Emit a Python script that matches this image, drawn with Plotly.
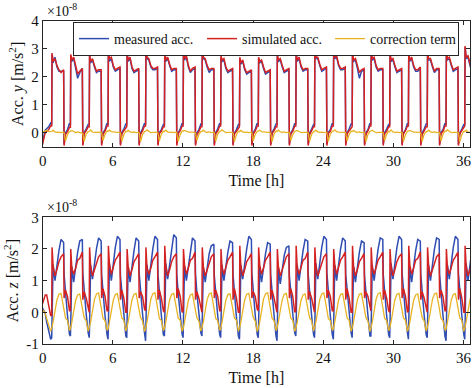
import plotly.graph_objects as go

# ---------------- data (values in units of 1e-8 m/s^2) ----------------
# orbit-cycle start times [h] (instant of the up-jump of the simulated signal)
cycle_start = [-0.84, 0.77, 2.37, 3.98, 5.59, 7.19, 8.80, 10.41, 12.01, 13.62, 15.22,
               16.83, 18.44, 20.04, 21.65, 23.25, 24.86, 26.47, 28.07, 29.68, 31.28,
               32.89, 34.50, 36.10]
# sample instants inside each cycle [h after cycle start]
phase_h = [0.00, 0.03, 0.12, 0.28, 0.45, 0.62, 0.80, 1.02, 1.06, 1.18, 1.35, 1.52]

y_measured = [
    [-0.40, -0.40, -0.40, -0.40, -0.40, -0.40, -0.40, 0.05, 0.10, 0.15, 0.22, 0.35],
    [0.30, 2.80, 2.50, 2.70, 2.35, 2.20, 2.20, 2.20, -0.40, 0.00, 0.12, 0.35],
    [0.28, 2.75, 2.55, 2.65, 2.30, 1.95, 2.15, 2.30, -0.40, 0.02, 0.15, 0.30],
    [0.30, 2.75, 2.50, 2.60, 2.35, 2.15, 2.20, 2.20, -0.40, 0.00, 0.12, 0.35],
    [0.30, 2.95, 2.55, 2.65, 2.35, 2.20, 2.25, 2.30, -0.40, 0.02, 0.14, 0.32],
    [0.30, 2.80, 2.55, 2.65, 2.30, 2.15, 2.20, 2.25, -0.40, 0.00, 0.15, 0.35],
    [0.30, 2.95, 2.65, 2.60, 2.35, 2.25, 2.25, 2.30, -0.40, 0.02, 0.12, 0.30],
    [0.30, 2.85, 2.55, 2.65, 2.40, 2.20, 2.25, 2.25, -0.40, 0.00, 0.14, 0.35],
    [0.30, 2.95, 2.60, 2.70, 2.35, 2.15, 2.25, 2.30, -0.40, 0.00, 0.12, 0.32],
    [0.30, 2.95, 2.65, 2.60, 2.35, 2.15, 2.25, 2.25, -0.40, 0.02, 0.15, 0.35],
    [0.30, 2.70, 2.55, 2.60, 2.30, 2.15, 2.20, 2.25, -0.40, 0.00, 0.12, 0.30],
    [0.30, 2.65, 2.45, 2.55, 2.25, 2.10, 2.15, 2.20, -0.40, 0.00, 0.14, 0.35],
    [0.30, 2.65, 2.50, 2.55, 2.30, 2.10, 2.15, 2.20, -0.40, 0.02, 0.15, 0.32],
    [0.30, 2.75, 2.55, 2.60, 2.35, 2.15, 2.20, 2.25, -0.40, 0.00, 0.12, 0.35],
    [0.30, 2.80, 2.55, 2.65, 2.35, 2.20, 2.25, 2.25, -0.40, 0.00, 0.14, 0.30],
    [0.30, 2.95, 2.65, 2.65, 2.40, 2.20, 2.25, 2.30, -0.40, 0.02, 0.12, 0.35],
    [0.30, 3.00, 2.65, 2.70, 2.40, 2.25, 2.25, 2.30, -0.40, 0.00, 0.15, 0.32],
    [0.30, 2.85, 2.55, 2.60, 2.30, 1.95, 2.20, 2.25, -0.40, 0.00, 0.12, 0.35],
    [0.30, 2.90, 2.60, 2.65, 2.35, 2.20, 2.25, 2.25, -0.40, 0.02, 0.14, 0.30],
    [0.30, 2.80, 2.55, 2.60, 2.35, 2.15, 2.20, 2.25, -0.40, 0.00, 0.12, 0.35],
    [0.30, 2.80, 2.55, 2.65, 2.35, 2.20, 2.20, 2.30, -0.40, 0.00, 0.15, 0.32],
    [0.30, 2.80, 2.60, 2.60, 2.35, 2.15, 2.25, 2.25, -0.40, 0.02, 0.12, 0.35],
    [0.30, 2.90, 2.60, 2.65, 2.40, 2.20, 2.25, 2.30, -0.40, 0.00, 0.14, 0.30],
    [0.30, 3.05, 2.65, 2.70, 2.40, 2.15, 2.20, 2.25, -0.40, 0.00, 0.12, 0.35],
]

y_simulated = [
    [-0.45, -0.45, -0.45, -0.45, -0.45, -0.45, -0.45, -0.05, 0.00, 0.05, 0.12, 0.25],
    [0.25, 2.85, 2.55, 2.65, 2.40, 2.25, 2.15, 2.25, -0.45, -0.05, 0.05, 0.20],
    [0.20, 2.80, 2.60, 2.70, 2.35, 2.10, 2.20, 2.30, -0.45, -0.02, 0.08, 0.22],
    [0.22, 2.80, 2.55, 2.65, 2.40, 2.20, 2.25, 2.25, -0.45, -0.05, 0.06, 0.25],
    [0.25, 3.00, 2.65, 2.70, 2.40, 2.25, 2.30, 2.35, -0.45, -0.03, 0.08, 0.20],
    [0.22, 2.85, 2.60, 2.70, 2.35, 2.20, 2.25, 2.30, -0.45, -0.04, 0.07, 0.25],
    [0.25, 3.00, 2.70, 2.65, 2.40, 2.30, 2.30, 2.35, -0.45, -0.02, 0.06, 0.22],
    [0.22, 2.90, 2.60, 2.70, 2.45, 2.25, 2.30, 2.30, -0.45, -0.03, 0.08, 0.25],
    [0.25, 3.00, 2.65, 2.75, 2.40, 2.20, 2.30, 2.35, -0.45, -0.05, 0.05, 0.22],
    [0.22, 3.00, 2.70, 2.65, 2.40, 2.25, 2.30, 2.30, -0.45, -0.02, 0.07, 0.25],
    [0.25, 2.75, 2.60, 2.65, 2.35, 2.20, 2.25, 2.30, -0.45, -0.03, 0.06, 0.20],
    [0.22, 2.70, 2.50, 2.60, 2.30, 2.15, 2.20, 2.25, -0.45, -0.04, 0.07, 0.25],
    [0.25, 2.70, 2.55, 2.60, 2.35, 2.15, 2.20, 2.25, -0.45, -0.02, 0.08, 0.22],
    [0.22, 2.80, 2.60, 2.65, 2.40, 2.20, 2.25, 2.30, -0.45, -0.03, 0.06, 0.25],
    [0.25, 2.85, 2.60, 2.70, 2.40, 2.25, 2.30, 2.30, -0.45, -0.05, 0.07, 0.22],
    [0.22, 3.00, 2.70, 2.70, 2.45, 2.25, 2.30, 2.35, -0.45, -0.02, 0.06, 0.25],
    [0.25, 3.05, 2.70, 2.75, 2.45, 2.30, 2.30, 2.35, -0.45, -0.03, 0.08, 0.20],
    [0.22, 2.90, 2.60, 2.65, 2.35, 2.15, 2.25, 2.30, -0.45, -0.04, 0.07, 0.25],
    [0.25, 2.95, 2.65, 2.70, 2.40, 2.25, 2.30, 2.30, -0.45, -0.02, 0.06, 0.22],
    [0.22, 2.85, 2.60, 2.65, 2.40, 2.20, 2.25, 2.30, -0.45, -0.03, 0.08, 0.25],
    [0.25, 2.85, 2.60, 2.70, 2.40, 2.25, 2.25, 2.35, -0.45, -0.05, 0.07, 0.22],
    [0.22, 2.85, 2.65, 2.65, 2.40, 2.20, 2.30, 2.30, -0.45, -0.02, 0.06, 0.25],
    [0.25, 2.95, 2.65, 2.70, 2.45, 2.25, 2.30, 2.35, -0.45, -0.03, 0.08, 0.22],
    [0.25, 3.10, 2.70, 2.75, 2.45, 2.20, 2.25, 2.30, -0.45, -0.03, 0.08, 0.22],
]

y_correction = [
    [0.04, 0.04, 0.04, 0.04, 0.04, 0.04, 0.04, 0.05, 0.07, 0.10, 0.05, 0.06],
    [0.05, 0.06, 0.10, 0.04, 0.02, 0.03, 0.01, 0.03, 0.00, -0.28, -0.06, 0.06],
    [0.06, 0.07, 0.09, 0.05, 0.01, 0.04, 0.02, 0.02, -0.01, -0.30, -0.04, 0.05],
    [0.05, 0.06, 0.11, 0.03, 0.02, 0.02, 0.01, 0.03, 0.00, -0.27, -0.05, 0.07],
    [0.06, 0.07, 0.10, 0.05, 0.03, 0.03, 0.02, 0.02, -0.01, -0.29, -0.06, 0.06],
    [0.05, 0.06, 0.09, 0.04, 0.02, 0.04, 0.01, 0.03, 0.00, -0.31, -0.05, 0.05],
    [0.06, 0.07, 0.11, 0.05, 0.01, 0.02, 0.02, 0.02, -0.01, -0.28, -0.04, 0.06],
    [0.05, 0.06, 0.10, 0.04, 0.02, 0.03, 0.01, 0.03, 0.00, -0.30, -0.06, 0.07],
    [0.06, 0.07, 0.09, 0.05, 0.03, 0.03, 0.02, 0.02, -0.01, -0.27, -0.05, 0.05],
    [0.05, 0.06, 0.10, 0.04, 0.02, 0.04, 0.01, 0.03, 0.00, -0.29, -0.04, 0.06],
    [0.06, 0.07, 0.11, 0.05, 0.01, 0.02, 0.02, 0.02, -0.01, -0.30, -0.06, 0.06],
    [0.05, 0.06, 0.09, 0.04, 0.02, 0.03, 0.01, 0.03, 0.00, -0.28, -0.05, 0.05],
    [0.06, 0.07, 0.10, 0.05, 0.03, 0.03, 0.02, 0.02, -0.01, -0.31, -0.04, 0.07],
    [0.05, 0.06, 0.11, 0.04, 0.02, 0.04, 0.01, 0.03, 0.00, -0.27, -0.06, 0.06],
    [0.06, 0.07, 0.09, 0.05, 0.01, 0.02, 0.02, 0.02, -0.01, -0.29, -0.05, 0.05],
    [0.05, 0.06, 0.10, 0.04, 0.02, 0.03, 0.01, 0.03, 0.00, -0.30, -0.04, 0.06],
    [0.06, 0.07, 0.11, 0.05, 0.03, 0.03, 0.02, 0.02, -0.01, -0.28, -0.06, 0.07],
    [0.05, 0.06, 0.09, 0.04, 0.02, 0.04, 0.01, 0.03, 0.00, -0.31, -0.05, 0.05],
    [0.06, 0.07, 0.10, 0.05, 0.01, 0.02, 0.02, 0.02, -0.01, -0.27, -0.04, 0.06],
    [0.05, 0.06, 0.11, 0.04, 0.02, 0.03, 0.01, 0.03, 0.00, -0.29, -0.06, 0.06],
    [0.06, 0.07, 0.09, 0.05, 0.03, 0.03, 0.02, 0.02, -0.01, -0.30, -0.05, 0.05],
    [0.05, 0.06, 0.10, 0.04, 0.02, 0.04, 0.01, 0.03, 0.00, -0.28, -0.04, 0.07],
    [0.06, 0.07, 0.11, 0.05, 0.01, 0.02, 0.02, 0.02, -0.01, -0.31, -0.06, 0.06],
    [0.05, 0.06, 0.10, 0.04, 0.02, 0.03, 0.01, 0.03, 0.00, -0.29, -0.05, 0.06],
]

z_measured = [
    [0.15, 0.15, 0.15, 0.15, 0.15, 0.15, 0.15, 0.00, -0.05, -0.30, -0.60, -0.85],
    [-0.80, -0.40, 1.50, 1.00, 1.55, 1.95, 2.30, 2.20, 1.20, 0.60, -0.10, -0.70],
    [-0.75, -0.35, 1.45, 0.95, 1.50, 1.90, 2.25, 2.30, 1.25, 0.65, -0.05, -0.65],
    [-0.80, -0.40, 1.50, 1.05, 1.60, 2.00, 2.35, 2.25, 1.20, 0.55, -0.10, -0.70],
    [-0.85, -0.40, 1.55, 1.00, 1.55, 2.05, 2.40, 2.30, 1.15, 0.60, -0.15, -0.75],
    [-0.80, -0.35, 1.45, 0.95, 1.50, 1.95, 2.35, 2.25, 1.25, 0.65, -0.05, -0.65],
    [-0.90, -0.45, 1.50, 1.00, 1.60, 2.00, 2.40, 2.30, 1.20, 0.55, -0.10, -0.70],
    [-0.75, -0.35, 1.55, 1.05, 1.55, 2.05, 2.45, 2.35, 1.20, 0.60, -0.10, -0.70],
    [-0.80, -0.40, 1.45, 1.00, 1.50, 1.95, 2.35, 2.25, 1.25, 0.60, -0.05, -0.65],
    [-0.75, -0.35, 1.40, 0.95, 1.45, 1.85, 2.10, 2.15, 1.15, 0.55, -0.10, -0.70],
    [-0.80, -0.40, 1.50, 1.00, 1.55, 1.90, 2.25, 2.20, 1.20, 0.60, -0.15, -0.75],
    [-0.85, -0.40, 1.50, 1.05, 1.60, 2.00, 2.40, 2.30, 1.25, 0.60, -0.10, -0.70],
    [-0.80, -0.35, 1.45, 0.95, 1.50, 1.85, 2.20, 2.15, 1.20, 0.55, -0.10, -0.75],
    [-0.90, -0.45, 1.40, 0.90, 1.45, 1.80, 2.05, 2.10, 1.15, 0.60, -0.05, -0.65],
    [-0.75, -0.35, 1.50, 1.00, 1.55, 1.95, 2.30, 2.25, 1.20, 0.55, -0.10, -0.70],
    [-0.80, -0.40, 1.55, 1.05, 1.60, 2.05, 2.40, 2.30, 1.25, 0.60, -0.10, -0.70],
    [-0.85, -0.40, 1.50, 1.00, 1.55, 2.00, 2.35, 2.25, 1.20, 0.65, -0.05, -0.65],
    [-0.80, -0.35, 1.45, 0.95, 1.50, 1.90, 2.25, 2.20, 1.15, 0.55, -0.10, -0.75],
    [-0.75, -0.40, 1.50, 1.00, 1.55, 2.00, 2.35, 2.30, 1.20, 0.60, -0.10, -0.70],
    [-0.80, -0.35, 1.55, 1.05, 1.60, 2.05, 2.40, 2.30, 1.25, 0.60, -0.05, -0.65],
    [-0.85, -0.40, 1.45, 0.95, 1.50, 1.95, 2.30, 2.25, 1.20, 0.55, -0.10, -0.70],
    [-0.80, -0.35, 1.50, 1.00, 1.55, 2.00, 2.35, 2.30, 1.20, 0.60, -0.10, -0.75],
    [-0.90, -0.45, 1.50, 1.05, 1.60, 2.05, 2.40, 2.30, 1.25, 0.60, -0.10, -0.70],
    [-0.85, -0.40, 1.55, 1.00, 1.55, 2.00, 2.30, 2.25, 1.20, 0.60, -0.10, -0.70],
]

z_simulated = [
    [0.25, 0.25, 0.25, 0.25, 0.25, 0.25, 0.25, 0.50, 0.55, 0.55, 0.20, -0.10],
    [-0.10, 2.05, 1.45, 1.15, 1.35, 1.60, 1.75, 1.85, 0.45, 0.70, 0.50, 0.05],
    [0.05, 2.00, 1.40, 1.20, 1.40, 1.65, 1.70, 1.90, 0.40, 0.65, 0.45, 0.10],
    [0.00, 2.05, 1.45, 1.15, 1.35, 1.60, 1.75, 1.85, 0.45, 0.75, 0.50, 0.05],
    [0.05, 2.10, 1.50, 1.20, 1.40, 1.65, 1.75, 1.90, 0.40, 0.70, 0.45, 0.00],
    [0.00, 2.00, 1.45, 1.15, 1.35, 1.60, 1.70, 1.85, 0.45, 0.65, 0.50, 0.10],
    [0.05, 2.05, 1.40, 1.20, 1.40, 1.65, 1.75, 1.90, 0.40, 0.70, 0.45, 0.05],
    [0.00, 2.10, 1.45, 1.15, 1.35, 1.60, 1.75, 1.85, 0.45, 0.75, 0.50, 0.00],
    [0.05, 2.00, 1.50, 1.20, 1.40, 1.65, 1.70, 1.90, 0.40, 0.65, 0.45, 0.10],
    [0.00, 2.05, 1.45, 1.15, 1.35, 1.60, 1.75, 1.85, 0.45, 0.70, 0.50, 0.05],
    [0.05, 2.00, 1.40, 1.20, 1.40, 1.65, 1.75, 1.90, 0.40, 0.75, 0.45, 0.00],
    [0.00, 2.10, 1.45, 1.15, 1.35, 1.60, 1.70, 1.85, 0.45, 0.65, 0.50, 0.10],
    [0.05, 2.05, 1.50, 1.20, 1.40, 1.65, 1.75, 1.90, 0.40, 0.70, 0.45, 0.05],
    [0.00, 2.00, 1.45, 1.15, 1.35, 1.60, 1.75, 1.85, 0.45, 0.75, 0.50, 0.00],
    [0.05, 2.10, 1.40, 1.20, 1.40, 1.65, 1.70, 1.90, 0.40, 0.65, 0.45, 0.10],
    [0.00, 2.05, 1.45, 1.15, 1.35, 1.60, 1.75, 1.85, 0.45, 0.70, 0.50, 0.05],
    [0.05, 2.00, 1.50, 1.20, 1.40, 1.65, 1.75, 1.90, 0.40, 0.75, 0.45, 0.00],
    [0.00, 2.10, 1.45, 1.15, 1.35, 1.60, 1.70, 1.85, 0.45, 0.65, 0.50, 0.10],
    [0.05, 2.05, 1.40, 1.20, 1.40, 1.65, 1.75, 1.90, 0.40, 0.70, 0.45, 0.05],
    [0.00, 2.00, 1.45, 1.15, 1.35, 1.60, 1.75, 1.85, 0.45, 0.75, 0.50, 0.00],
    [0.05, 2.10, 1.50, 1.20, 1.40, 1.65, 1.70, 1.90, 0.40, 0.65, 0.45, 0.10],
    [0.00, 2.05, 1.45, 1.15, 1.35, 1.60, 1.75, 1.85, 0.45, 0.70, 0.50, 0.05],
    [0.05, 2.00, 1.40, 1.20, 1.40, 1.65, 1.75, 1.90, 0.40, 0.75, 0.45, 0.00],
    [0.00, 2.10, 1.45, 1.15, 1.35, 1.60, 1.70, 1.85, 0.45, 0.65, 0.50, 0.10],
]

z_correction = [
    [0.10, 0.10, 0.10, 0.10, 0.10, 0.10, 0.10, 0.00, -0.05, -0.20, -0.40, -0.60],
    [-0.50, -0.47, -0.30, 0.05, 0.40, 0.57, 0.60, 0.15, 0.05, -0.18, -0.25, -0.58],
    [-0.52, -0.48, -0.32, 0.03, 0.38, 0.55, 0.58, 0.13, 0.04, -0.17, -0.27, -0.60],
    [-0.50, -0.46, -0.30, 0.05, 0.41, 0.58, 0.61, 0.16, 0.06, -0.19, -0.26, -0.57],
    [-0.53, -0.49, -0.31, 0.04, 0.39, 0.56, 0.59, 0.14, 0.05, -0.18, -0.25, -0.59],
    [-0.50, -0.47, -0.29, 0.06, 0.40, 0.57, 0.60, 0.15, 0.04, -0.17, -0.27, -0.61],
    [-0.52, -0.48, -0.31, 0.04, 0.42, 0.59, 0.62, 0.16, 0.06, -0.19, -0.26, -0.58],
    [-0.51, -0.47, -0.30, 0.05, 0.40, 0.57, 0.60, 0.15, 0.05, -0.18, -0.25, -0.60],
    [-0.52, -0.48, -0.32, 0.03, 0.38, 0.55, 0.58, 0.13, 0.04, -0.17, -0.27, -0.59],
    [-0.50, -0.46, -0.30, 0.05, 0.41, 0.58, 0.61, 0.16, 0.06, -0.19, -0.26, -0.57],
    [-0.53, -0.49, -0.31, 0.04, 0.39, 0.56, 0.59, 0.14, 0.05, -0.18, -0.25, -0.60],
    [-0.50, -0.47, -0.29, 0.06, 0.40, 0.57, 0.60, 0.15, 0.04, -0.17, -0.27, -0.61],
    [-0.52, -0.48, -0.31, 0.04, 0.42, 0.59, 0.62, 0.16, 0.06, -0.19, -0.26, -0.58],
    [-0.51, -0.47, -0.30, 0.05, 0.40, 0.57, 0.60, 0.15, 0.05, -0.18, -0.25, -0.60],
    [-0.52, -0.48, -0.32, 0.03, 0.38, 0.55, 0.58, 0.13, 0.04, -0.17, -0.27, -0.59],
    [-0.50, -0.46, -0.30, 0.05, 0.41, 0.58, 0.61, 0.16, 0.06, -0.19, -0.26, -0.57],
    [-0.53, -0.49, -0.31, 0.04, 0.39, 0.56, 0.59, 0.14, 0.05, -0.18, -0.25, -0.60],
    [-0.50, -0.47, -0.29, 0.06, 0.40, 0.57, 0.60, 0.15, 0.04, -0.17, -0.27, -0.61],
    [-0.52, -0.48, -0.31, 0.04, 0.42, 0.59, 0.62, 0.16, 0.06, -0.19, -0.26, -0.58],
    [-0.51, -0.47, -0.30, 0.05, 0.40, 0.57, 0.60, 0.15, 0.05, -0.18, -0.25, -0.60],
    [-0.52, -0.48, -0.32, 0.03, 0.38, 0.55, 0.58, 0.13, 0.04, -0.17, -0.27, -0.59],
    [-0.50, -0.46, -0.30, 0.05, 0.41, 0.58, 0.61, 0.16, 0.06, -0.19, -0.26, -0.57],
    [-0.53, -0.49, -0.31, 0.04, 0.39, 0.56, 0.59, 0.14, 0.05, -0.18, -0.25, -0.60],
    [-0.50, -0.47, -0.30, 0.05, 0.40, 0.57, 0.60, 0.15, 0.05, -0.18, -0.26, -0.59],
]

x_ticks = [0, 6, 12, 18, 24, 30, 36]
y_ticks_top = [0, 1, 2, 3, 4]
y_ticks_bottom = [-1, 0, 1, 2, 3]
y_ticklabels_bottom = ["-1", "0", "1", "2", "3"]
series_names = ["measured acc.", "simulated acc.", "correction term"]

# ---------------- styling ----------------
COLORS = ["#2f4db3", "#d42222", "#e8b324"]
WIDTHS = [1.5, 1.5, 1.3]
FONT = "Liberation Serif"
AX = "#262626"
W, H = 474, 388


def flatten(rows):
    xs, ys = [], []
    for start, row in zip(cycle_start, rows):
        for off, v in zip(phase_h, row):
            xs.append(start + off)
            ys.append(v)
    return xs, ys


fig = go.Figure()
top_sets = [y_measured, y_simulated, y_correction]
bot_sets = [z_measured, z_simulated, z_correction]
for i, rows in enumerate(top_sets):
    xs, ys = flatten(rows)
    fig.add_trace(go.Scatter(x=xs, y=ys, mode="lines", name=series_names[i],
                             line=dict(color=COLORS[i], width=WIDTHS[i]),
                             xaxis="x", yaxis="y", showlegend=True))
for i, rows in enumerate(bot_sets):
    xs, ys = flatten(rows)
    fig.add_trace(go.Scatter(x=xs, y=ys, mode="lines", name=series_names[i],
                             line=dict(color=COLORS[i], width=WIDTHS[i]),
                             xaxis="x2", yaxis="y2", showlegend=False))

xdom = [42.7 / W, 470 / W]
top_dom = [1 - 147 / H, 1 - 20.7 / H]
bot_dom = [1 - 344 / H, 1 - 217.3 / H]

common_x = dict(range=[0, 36.55], tickvals=x_ticks, ticks="inside", ticklen=4,
                tickcolor=AX, showline=True, linecolor=AX, linewidth=1,
                mirror="ticks", showgrid=False, zeroline=False,
                tickfont=dict(family=FONT, size=15, color="#111"),
                domain=xdom, automargin=False)
common_y = dict(ticks="inside", ticklen=4, tickcolor=AX, showline=True,
                linecolor=AX, linewidth=1, mirror="ticks", showgrid=False,
                zeroline=False, tickfont=dict(family=FONT, size=15, color="#111"),
                automargin=False)

fig.update_layout(
    width=W, height=H, margin=dict(l=0, r=0, t=0, b=0, autoexpand=False),
    paper_bgcolor="white", plot_bgcolor="white",
    xaxis=dict(common_x, anchor="y",
               title=dict(text="Time [h]", font=dict(family=FONT, size=16, color="#111"), standoff=6)),
    yaxis=dict(common_y, range=[-0.5, 4], tickvals=y_ticks_top, domain=top_dom, anchor="x",
               title=dict(text="Acc. <i>y</i> [m/s<sup>2</sup>]",
                          font=dict(family=FONT, size=16, color="#111"), standoff=3)),
    xaxis2=dict(common_x, anchor="y2",
                title=dict(text="Time [h]", font=dict(family=FONT, size=16, color="#111"), standoff=6)),
    yaxis2=dict(common_y, range=[-1, 3], tickvals=y_ticks_bottom, ticktext=y_ticklabels_bottom,
                domain=bot_dom, anchor="x2",
                title=dict(text="Acc. <i>z</i> [m/s<sup>2</sup>]",
                           font=dict(family=FONT, size=16, color="#111"), standoff=3)),
    legend=dict(orientation="h", x=73 / W, y=1 - 22 / H, xanchor="left", yanchor="top",
                bgcolor="white", bordercolor=AX, borderwidth=1,
                font=dict(family=FONT, size=14, color="#111"),
                entrywidth=83, entrywidthmode="pixels",
                itemwidth=30, tracegroupgap=0),
    showlegend=True,
)

for ydom in (top_dom, bot_dom):
    fig.add_annotation(text="×10<sup>-8</sup>", xref="paper", yref="paper",
                       x=45 / W, y=ydom[1], xanchor="left", yanchor="bottom",
                       showarrow=False, font=dict(family=FONT, size=14, color="#111"))

fig.write_html("out.html",
               config={"displayModeBar": False},
               post_script="document.body.style.margin='0';"
                           "document.body.style.overflow='hidden';")
